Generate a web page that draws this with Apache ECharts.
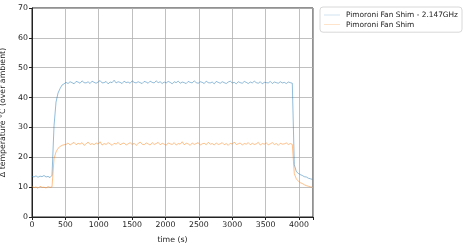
<!DOCTYPE html>
<html><head><meta charset="utf-8">
<script src="https://cdn.jsdelivr.net/npm/echarts@6/dist/echarts.min.js"></script>
<style>html,body{margin:0;padding:0;background:#fff}#c{width:474px;height:246px}</style>
</head><body><div id="c"></div>
<script>
const seriesNames = ["Pimoroni Fan Shim - 2.147GHz", "Pimoroni Fan Shim"];
const xTicks = [0, 500, 1000, 1500, 2000, 2500, 3000, 3500, 4000];
const yTicks = [0, 10, 20, 30, 40, 50, 60, 70];
// sample times (s), every 30 s
const times = [];
for (let i = 0; i <= 140; i++) times.push(i * 30);
const fastValues = [
13.6,13.4,13.8,13.3,13.7,13.5,13.9,13.4,13.6,13.2,14.0,
30.5,38.5,41.5,43.0,44.2,44.6,
45.1,44.7,45.3,45.0,44.6,45.4,45.2,44.8,45.6,45.0,
44.9,45.3,44.7,45.5,45.1,44.8,45.2,45.7,44.9,45.0,
45.4,44.6,45.2,45.0,45.8,44.9,45.3,45.1,44.7,45.5,
45.0,45.2,44.8,45.6,45.1,44.9,45.3,45.0,44.7,45.4,
45.2,44.8,45.5,45.1,44.9,45.6,45.0,45.3,44.7,45.2,
44.9,45.4,45.1,44.6,45.3,45.0,45.5,44.8,45.2,45.0,
44.7,45.4,45.1,44.9,45.6,45.0,44.8,45.3,45.1,44.7,
45.5,45.0,44.9,45.2,44.6,45.4,45.1,44.8,45.3,45.0,
44.7,45.2,45.5,44.9,45.1,44.6,45.3,45.0,44.8,45.4,
45.1,44.7,45.2,44.9,45.5,45.0,44.8,45.3,44.6,45.1,
45.0,44.9,45.4,44.7,45.2,45.0,44.8,45.3,44.9,45.1,
44.7,45.2,45.0,
44.8,17.5,15.2,14.6,14.2,13.9,13.5,13.4,13.0,12.8,12.6
];
const baseValues = [
10.2,9.8,10.1,9.6,10.3,9.9,10.0,9.7,10.2,9.9,10.1,
19.5,21.8,23.0,23.6,24.0,24.2,
24.3,24.8,24.1,24.6,25.0,24.2,24.7,24.4,24.9,24.0,
24.5,25.1,24.3,24.6,24.2,24.8,24.4,25.2,24.1,24.6,
24.3,24.9,24.5,24.0,24.7,24.4,25.0,24.2,24.6,24.8,
24.1,24.5,24.9,24.3,24.7,24.0,24.6,25.1,24.4,24.2,
24.8,24.5,24.1,24.9,24.3,24.6,25.0,24.2,24.7,24.4,
24.0,24.8,24.5,24.3,24.9,24.1,24.6,24.4,25.2,24.2,
24.7,24.5,24.0,24.8,24.3,24.6,24.9,24.1,24.5,24.7,
24.2,25.0,24.4,24.6,24.1,24.8,24.3,24.5,24.9,24.2,
24.6,24.0,24.7,24.4,25.1,24.3,24.5,24.8,24.1,24.6,
24.4,24.9,24.2,24.7,24.3,24.5,25.0,24.1,24.6,24.4,
24.8,24.2,24.5,24.9,24.3,24.6,24.0,24.7,24.4,24.5,
24.8,24.3,24.6,
24.3,14.5,12.8,12.0,11.5,11.2,10.8,10.5,10.3,10.1,10.0
];
const colors = ["#1f77b4", "#ff7f0e"];
const pairs = (vals) => vals.map((v, i) => [times[i], v]);

const chart = echarts.init(document.getElementById('c'), null, {renderer: 'canvas'});
const font = 'DejaVu Sans';
const fs = 7.8;
chart.setOption({
  animation: false,
  backgroundColor: '#fff',
  textStyle: {fontFamily: font},
  grid: {left: 32, right: 161, top: 8, bottom: 29, containLabel: false, outerBoundsMode: 'none',
         show: true, borderColor: '#222', borderWidth: 1, backgroundColor: 'transparent'},
  legend: {
    orient: 'vertical', left: 320, top: 7, data: seriesNames,
    itemWidth: 16, itemHeight: 8, itemGap: 2.7, icon: 'path://M0,4 L16,4 L16,4.6 L0,4.6 Z',
    borderColor: '#d8d8d8', borderWidth: 1, borderRadius: 3,
    padding: [4.5, 4, 4, 4],
    textStyle: {fontFamily: font, fontSize: 7.4, color: '#222', padding: [0,0,0,1]}
  },
  xAxis: {
    type: 'value', min: 0, max: 4210, interval: 500,
    name: 'time (s)', nameLocation: 'middle', nameGap: 19,
    nameTextStyle: {fontFamily: font, fontSize: fs, color: '#222'},
    axisLine: {show: true, onZero: false, lineStyle: {color: '#222', width: 1}},
    axisTick: {show: true, inside: false, length: 3, lineStyle: {color: '#222'}},
    axisLabel: {fontFamily: font, fontSize: fs, color: '#222', margin: 4,
      formatter: (v) => xTicks.includes(v) ? String(v) : ''},
    splitLine: {show: true, lineStyle: {color: '#b0b0b0', width: 0.8}}
  },
  yAxis: {
    type: 'value', min: 0, max: 70, interval: 10,
    name: 'Δ temperature °C (over ambient)', nameLocation: 'middle', nameGap: 18,
    nameTextStyle: {fontFamily: font, fontSize: fs, color: '#222'},
    axisLine: {show: true, lineStyle: {color: '#222', width: 1}},
    axisTick: {show: true, inside: false, length: 3, lineStyle: {color: '#222'}},
    axisLabel: {fontFamily: font, fontSize: fs, color: '#222', margin: 4,
      formatter: (v) => yTicks.includes(v) ? String(v) : ''},
    splitLine: {show: true, lineStyle: {color: '#b0b0b0', width: 0.8}}
  },
  series: [
    {name: seriesNames[0], type: 'line', data: pairs(fastValues), showSymbol: false, symbol: 'none',
     lineStyle: {color: colors[0], width: 0.7, opacity: 0.7}, itemStyle: {color: colors[0], opacity: 0.35}},
    {name: seriesNames[1], type: 'line', data: pairs(baseValues), showSymbol: false, symbol: 'none',
     lineStyle: {color: colors[1], width: 0.7, opacity: 0.7}, itemStyle: {color: colors[1], opacity: 0.35}}
  ]
});
</script></body></html>
